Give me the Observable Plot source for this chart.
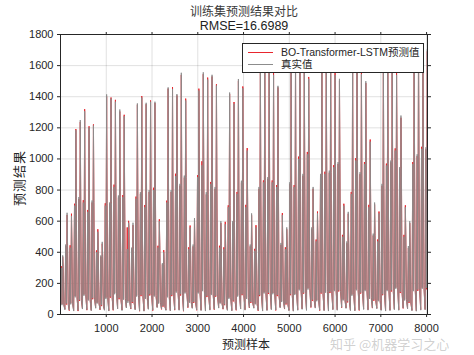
<!DOCTYPE html>
<html><head><meta charset="utf-8">
<script src="https://cdn.jsdelivr.net/npm/d3@7"></script>
<script src="https://cdn.jsdelivr.net/npm/@observablehq/plot@0.6"></script>
<style>
body{margin:0;background:#fff;}
#wrap{position:relative;width:474px;height:355px;overflow:hidden;font-family:"Liberation Sans",Arial,sans-serif;background:#fff;}
.abs{position:absolute;white-space:nowrap;}
.cjk{font-family:"Noto Sans CJK SC","Noto Sans",sans-serif;}
</style></head><body><div id="wrap"></div>
<script>
// ---- data (one entry per daily cycle) ----
const xTicks = [1000, 2000, 3000, 4000, 5000, 6000, 7000, 8000];
const yTicks = [0, 200, 400, 600, 800, 1000, 1200, 1400, 1600, 1800];
const titleText = "训练集预测结果对比";
const subtitleText = "RMSE=16.6989";
const xLabel = "预测样本";
const yLabel = "预测结果";
const seriesNames = ["BO-Transformer-LSTM预测值", "真实值"];

const peakTrue = [380,654,634,1185,1250,1307,1203,1215,532,467,
1415,1389,1368,1318,1275,590,590,1357,1395,1361,
1368,1368,600,400,1460,1450,1417,1554,1376,560,
620,1440,1557,1511,1541,1472,600,580,1427,1355,
1514,1455,1054,650,560,1600,1620,1590,1540,1470,
640,560,1600,1640,1610,1590,1515,820,650,1620,
1600,1610,1540,1515,700,660,1610,1630,1545,1500,
1111,720,650,1600,1620,1580,1540,1279,690,600,
1643,1718,1660,1705];
const peakPred = [372,640,648,1192,1238,1320,1210,1222,548,455,
1402,1395,1380,1305,1284,602,575,1349,1404,1352,
1376,1360,612,414,1452,1462,1408,1540,1388,572,
610,1452,1545,1523,1530,1480,588,596,1418,1366,
1502,1466,1070,638,574,1588,1632,1578,1552,1460,
652,548,1612,1628,1622,1578,1527,808,662,1608,
1612,1598,1552,1503,712,648,1622,1618,1557,1488,
1125,708,662,1588,1632,1568,1552,1265,702,588,
1630,1705,1672,1692];
const shoulderTrue = [300,450,430,700,755,720,660,733,400,380,
700,720,820,765,755,420,430,745,786,690,
800,800,430,330,720,800,890,840,893,420,
450,883,960,786,840,820,430,420,690,600,
775,860,690,450,410,820,850,883,850,820,
460,420,850,820,1000,904,1030,560,470,904,
904,925,947,980,500,470,775,990,915,968,
690,520,470,840,958,990,1054,947,500,440,
968,1030,1065,1075];
const shoulderPred = [310,440,445,712,742,735,672,720,412,372,
715,708,835,752,768,560,418,758,775,704,
788,815,442,322,732,788,905,828,880,432,
438,895,985,772,852,808,442,432,702,588,
788,848,705,438,422,808,862,870,862,832,
448,432,838,832,1015,892,1045,548,482,892,
918,912,960,968,512,458,788,1005,902,980,
705,508,482,828,970,978,1068,935,512,428,
980,1018,1078,1062];
const dipTrue = [60,70,65,110,95,120,90,105,70,60,
100,115,130,105,95,75,80,115,125,100,
130,115,70,55,110,125,140,130,135,75,
80,135,150,120,125,120,70,65,100,90,
115,130,100,80,65,125,135,140,130,125,
80,70,130,125,155,140,160,95,85,140,
140,145,150,155,90,85,120,155,140,150,
100,95,85,130,150,155,165,145,90,80,
150,160,165,170];
const dipPred = [66,64,72,118,88,128,96,98,76,54,
108,108,138,98,102,85,74,122,118,108,
122,122,76,50,118,118,148,122,142,82,
74,142,158,112,132,114,76,60,108,84,
122,124,108,74,70,118,142,132,138,118,
86,64,124,132,162,134,168,88,92,134,
148,138,158,148,96,78,128,162,134,158,
108,88,92,124,158,148,172,138,96,74,
158,152,172,162];
const lowTrue = [45,30,28,22,26,35,31,24,40,33,
27,22,30,36,25,42,38,29,24,21,
33,28,44,36,26,23,31,27,24,47,
39,30,25,22,28,34,41,37,26,23,
30,35,28,45,40,27,22,25,31,29,
43,38,24,21,27,33,26,48,41,28,
24,22,30,27,46,39,25,23,29,32,
28,44,37,26,22,25,31,27,42,36,
24,21,28,30];
const lowPred = [50,34,25,26,22,38,28,27,44,30,
31,25,27,39,29,45,35,33,21,24,
36,25,47,33,29,26,28,30,21,44,
42,27,28,25,31,31,44,34,29,26,
27,38,31,42,43,24,25,28,34,26,
46,35,27,24,30,36,29,45,44,25,
27,25,33,30,43,42,28,26,26,35,
31,41,40,29,25,28,34,30,39,39,
27,24,31,33];

// table built from the arrays (fixed in-day sample positions)
const samplesPerDay = 96;
function build(low, shoulder, dip, peak) {
  const rows = [];
  for (let d = 0; d < peak.length; d++) {
    const t0 = d * samplesPerDay;
    rows.push({t: t0, v: low[d]});
    rows.push({t: t0 + 18, v: shoulder[d]});
    rows.push({t: t0 + 32, v: dip[d]});
    rows.push({t: t0 + 48, v: peak[d]});
    rows.push({t: t0 + 58, v: shoulder[d]});
    rows.push({t: t0 + 72, v: dip[d]});
  }
  return rows;
}
const trueRows = build(lowTrue, shoulderTrue, dipTrue, peakTrue);
const predRows = build(lowPred, shoulderPred, dipPred, peakPred);

const plot = Plot.plot({
  width: 474, height: 355,
  marginLeft: 60, marginRight: 47, marginTop: 34, marginBottom: 41,
  x: {domain: [0, 8020], label: null},
  y: {domain: [0, 1800], label: null},
  style: {fontFamily: '"Liberation Sans", Arial, sans-serif', fontSize: "11px", color: "#262626", background: "transparent", overflow: "visible"},
  marks: [
    Plot.gridX(xTicks, {stroke: "#000", strokeOpacity: 0.12}),
    Plot.gridY(yTicks, {stroke: "#000", strokeOpacity: 0.12}),
    Plot.line(predRows, {x: "t", y: "v", stroke: "#e8262e", strokeWidth: 1, clip: true}),
    Plot.line(trueRows, {x: "t", y: "v", stroke: "#8c8c8c", strokeWidth: 1, strokeOpacity: 0.9, clip: true}),
    Plot.frame({stroke: "#262626"}),
    Plot.axisX(xTicks, {anchor: "bottom", tickSize: 3, tickPadding: 7, label: null, tickFormat: d => String(d)}),
    Plot.axisX(xTicks, {anchor: "top", tickSize: 3, tickFormat: () => "", label: null}),
    Plot.axisY(yTicks, {anchor: "left", tickSize: 3, tickPadding: 4, label: null, tickFormat: d => String(d)}),
    Plot.axisY(yTicks, {anchor: "right", tickSize: 3, tickFormat: () => "", label: null})
  ]
});
const wrap = document.getElementById("wrap");
plot.style.position = "absolute";
plot.style.left = "0px";
plot.style.top = "0px";
wrap.appendChild(plot);

function addText(txt, cls, css) {
  const el = document.createElement("div");
  el.className = "abs " + cls;
  el.textContent = txt;
  Object.assign(el.style, css);
  wrap.appendChild(el);
  return el;
}
addText(titleText, "cjk", {left: "244px", top: "4px", fontSize: "12px", lineHeight: "14px", color: "#3a3a3a", transform: "translateX(-50%)"});
addText(subtitleText, "", {left: "244px", top: "19px", fontSize: "12.5px", lineHeight: "14px", color: "#222", transform: "translateX(-50%)"});
addText(xLabel, "cjk", {left: "246px", top: "337px", fontSize: "12px", lineHeight: "14px", color: "#262626", transform: "translateX(-50%)"});
addText(yLabel, "cjk", {left: "19px", top: "178px", fontSize: "13px", lineHeight: "14px", color: "#262626", transform: "translate(-50%,-50%) rotate(-90deg)", letterSpacing: "1px"});

// legend
const box = document.createElement("div");
box.className = "abs";
Object.assign(box.style, {left: "242px", top: "43px", width: "182px", height: "30px", border: "1px solid #262626", background: "#fff", boxSizing: "border-box"});
wrap.appendChild(box);
const colors = ["#e8262e", "#8c8c8c"];
seriesNames.forEach((name, i) => {
  const y = 52 + i * 12;
  const ln = document.createElement("div");
  ln.className = "abs";
  Object.assign(ln.style, {left: "248px", top: (y - 0.5) + "px", width: "25px", height: "1.2px", background: colors[i]});
  wrap.appendChild(ln);
  const tx = addText(name, "", {left: "281px", top: (y - 6.5) + "px", fontSize: "10.5px", lineHeight: "13px", color: "#262626"});
  tx.style.fontFamily = '"Liberation Sans", "Noto Sans CJK SC", sans-serif';
});

// watermark (faint, as in the reference)
addText("知乎 @机器学习之心", "cjk", {left: "330px", top: "336px", fontSize: "13px", lineHeight: "15px", color: "rgba(150,150,150,0.45)"});
</script></body></html>
